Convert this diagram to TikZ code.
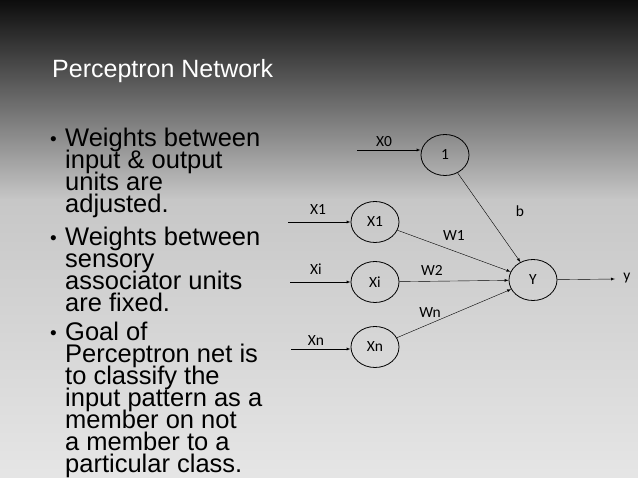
\documentclass[tikz,border=0pt]{standalone}
\usepackage{fontspec}
\setmainfont{Liberation Sans}
\newfontfamily\carl{Carlito}
\begin{document}
\begin{tikzpicture}[x=1pt,y=-1pt,
  neuron/.style={draw,thick,ellipse,minimum width=48pt,minimum height=41pt,inner sep=0pt,font=\carl\fontsize{15.5}{15.5}\selectfont},
  lbl/.style={font=\carl\fontsize{15.5}{15.5}\selectfont,inner sep=0pt},
  conn/.style={-latex,thin},
  btxt/.style={anchor=base west,inner sep=0pt,font=\fontsize{25.5}{25.5}\selectfont}]
\usetikzlibrary{shapes.geometric}
\shade[top color=black!95,bottom color=black!22] (0,0) rectangle (638,200);
\shade[top color=black!22,bottom color=black!10] (0,200) rectangle (638,478);
\useasboundingbox (0,0) rectangle (638,478);
\node[anchor=base west,inner sep=0pt,text=white,font=\fontsize{25}{25}\selectfont] (title) at (52,78) {Perceptron Network};
\foreach \t/\y [count=\i] in {Weights between/147,input \& output/169,units are/191,adjusted./213,Weights between/246,sensory/268,associator units/290,are fixed./312,Goal of/341,Perceptron net is/363,to classify the/385,input pattern as a/407,member on not/429,a member to a/451,particular class./473}
  \node[btxt] (b\i) at (65,\y) {\t};
\foreach \y [count=\i] in {146,245,340}
  \node[anchor=base west,inner sep=0pt,font=\fontsize{19}{19}\selectfont] (d\i) at (50,\y) {•};
\node[neuron] (one) at (445,155) {1};
\node[neuron] (x1) at (375,222) {X1};
\node[neuron] (xi) at (375,282) {Xi};
\node[neuron] (xn) at (375,347) {Xn};
\node[neuron] (y) at (533,280) {Y};
\coordinate (s0) at (357,150);
\coordinate (s1) at (288,222);
\coordinate (si) at (290,282);
\coordinate (sn) at (291,349);
\coordinate (e) at (615,279);
\draw[conn] (s0) -- (one.west|-s0);
\draw[conn] (s1) -- (x1);
\draw[conn] (si) -- (xi);
\draw[conn] (sn) -- (xn.west|-sn);
\draw[conn] (one) -- (y);
\draw[conn] (x1) -- (y);
\draw[conn] (xi) -- (y);
\draw[conn] (xn) -- (y);
\draw[conn] (y) -- (e);
\node[lbl] (lx0) at (384,142) {X0};
\node[lbl] (lx1) at (318,210) {X1};
\node[lbl] (lxi) at (316,269) {Xi};
\node[lbl] (lxn) at (316,341) {Xn};
\node[lbl] (lb) at (520,211) {b};
\node[lbl] (lw1) at (454,236) {W1};
\node[lbl] (lw2) at (432,270) {W2};
\node[lbl] (lwn) at (430,313) {Wn};
\node[lbl] (ly) at (627,278) {y};
\end{tikzpicture}
\end{document}
